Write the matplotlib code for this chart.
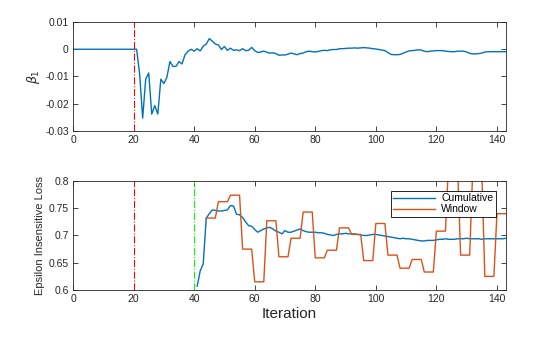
import numpy as np
import matplotlib
matplotlib.use("Agg")
import matplotlib.pyplot as plt

plt.rcParams['font.family'] = ['Liberation Sans', 'DejaVu Sans']

# beta_1 estimate per iteration, 0..143
beta_iter = np.arange(0, 144)
beta_vals = [0.0] * 22 + [
    -0.0091, -0.0253, -0.0110, -0.0087, -0.0238, -0.0207, -0.0238, -0.0110,
    -0.0126, -0.0103, -0.0045, -0.0063, -0.0063, -0.0045, -0.0054, -0.0020,
    -0.0007, 0.0000, -0.0007, 0.0002, -0.0006, 0.0011, 0.0019, 0.0039,
    0.0030, 0.0019, 0.0016, -0.0001, 0.0010, -0.0004, 0.0004, -0.0004,
    -0.0002, -0.0005, 0.0002, -0.0005, -0.0004, 0.0007, -0.0005, -0.0012,
    -0.0010, -0.0007, -0.0011, -0.0014, -0.0013, -0.0016, -0.0022, -0.0021,
    -0.0021, -0.0018, -0.0014, -0.0017, -0.0020, -0.0016, -0.0014, -0.0009,
    -0.0007, -0.0009, -0.0010, -0.0008, -0.0005, -0.0004, -0.0005, -0.0002,
    -0.0001, -0.0001, 0.0002, 0.0002, 0.0003, 0.0004, 0.0004, 0.0005,
    0.0004, 0.0005, 0.0006, 0.0005, 0.0004, 0.0002, 0.0001, -0.0001,
    -0.0003, -0.0005, -0.0012, -0.0019, -0.0020, -0.0020, -0.0019, -0.0015,
    -0.0010, -0.0006, -0.0005, -0.0004, -0.0002, -0.0003, -0.0007, -0.0009,
    -0.0007, -0.0006, -0.0005, -0.0005, -0.0005, -0.0007, -0.0008, -0.0009,
    -0.0009, -0.0007, -0.0007, -0.0007, -0.0010, -0.0015, -0.0017, -0.0017,
    -0.0016, -0.0014, -0.0010, -0.0009, -0.0009, -0.0009, -0.0009, -0.0009,
    -0.0009, -0.0009,
]

# cumulative loss, iterations 41..143
cum_iter = np.arange(41, 144)
cum_loss = [
    0.607, 0.635, 0.648, 0.732, 0.740, 0.747, 0.746, 0.745, 0.745, 0.746,
    0.747, 0.755, 0.754, 0.739, 0.738, 0.733, 0.725, 0.718, 0.717, 0.711,
    0.706, 0.709, 0.712, 0.714, 0.715, 0.712, 0.708, 0.706, 0.703, 0.709,
    0.706, 0.706, 0.708, 0.710, 0.712, 0.709, 0.707, 0.706, 0.706, 0.706,
    0.705, 0.705, 0.704, 0.702, 0.701, 0.700, 0.702, 0.703, 0.703, 0.704,
    0.703, 0.703, 0.703, 0.702, 0.701, 0.700, 0.700, 0.701, 0.702, 0.702,
    0.701, 0.700, 0.699, 0.698, 0.697, 0.696, 0.695, 0.694, 0.695, 0.694,
    0.694, 0.693, 0.692, 0.691, 0.690, 0.690, 0.691, 0.691, 0.691, 0.692,
    0.693, 0.693, 0.694, 0.693, 0.693, 0.693, 0.694, 0.694, 0.694, 0.695,
    0.694, 0.694, 0.694, 0.694, 0.693, 0.694, 0.694, 0.694, 0.694, 0.694,
    0.694, 0.694, 0.695,
]

# window loss, iterations 44..143
win_iter = np.arange(44, 144)
win_loss = [
    0.732, 0.732, 0.732, 0.732, 0.762, 0.762, 0.762, 0.762,
    0.774, 0.774, 0.774, 0.774, 0.675, 0.675, 0.675, 0.675,
    0.615, 0.615, 0.615, 0.615, 0.727, 0.727, 0.727, 0.727,
    0.661, 0.661, 0.661, 0.661, 0.695, 0.695, 0.695, 0.695,
    0.743, 0.743, 0.743, 0.743, 0.659, 0.659, 0.659, 0.659,
    0.673, 0.673, 0.673, 0.673, 0.714, 0.714, 0.714, 0.714,
    0.702, 0.702, 0.702, 0.702, 0.654, 0.654, 0.654, 0.654,
    0.722, 0.722, 0.722, 0.722, 0.664, 0.664, 0.664, 0.664,
    0.640, 0.640, 0.640, 0.640, 0.656, 0.656, 0.656, 0.656,
    0.633, 0.633, 0.633, 0.633, 0.708, 0.708, 0.708, 0.708,
    0.830, 0.830, 0.830, 0.830, 0.664, 0.664, 0.664, 0.664,
    0.820, 0.820, 0.820, 0.820, 0.625, 0.625, 0.625, 0.625,
    0.740, 0.740, 0.740, 0.740,
]

x_ticks = [0, 20, 40, 60, 80, 100, 120, 140]
beta_ticks = [-0.03, -0.02, -0.01, 0, 0.01]
beta_ticklabels = ['-0.03', '-0.02', '-0.01', '0', '0.01']
loss_ticks = [0.6, 0.65, 0.7, 0.75, 0.8]
loss_ticklabels = ['0.6', '0.65', '0.7', '0.75', '0.8']

blue = '#0072BD'
orange = '#D95319'
axcol = '#262626'

fig = plt.figure(figsize=(5.6, 3.37), dpi=100)
ax1 = fig.add_axes([0.1304, 0.6113, 0.7732, 0.3234])
ax2 = fig.add_axes([0.1304, 0.1395, 0.7732, 0.3234])


def style(ax):
    ax.set_xlim(0, 143)
    ax.set_xticks(x_ticks)
    ax.tick_params(direction='in', top=True, right=True, length=3.5,
                   width=0.6, colors=axcol, labelsize=7.5, pad=3)
    for s in ax.spines.values():
        s.set_color(axcol)
        s.set_linewidth(0.6)


ax1.plot(beta_iter, beta_vals, color=blue, lw=1.0)
ax1.axvline(20, color='red', ls='-.', lw=0.8)
ax1.set_ylim(-0.03, 0.01)
ax1.set_yticks(beta_ticks)
ax1.set_yticklabels(beta_ticklabels)
ax1.set_ylabel(r'$\beta_1$', fontsize=9, color=axcol, labelpad=2)
style(ax1)

ax2.plot(cum_iter, cum_loss, color=blue, lw=1.0, label='Cumulative')
ax2.plot(win_iter, win_loss, color=orange, lw=1.0, label='Window')
ax2.axvline(20, color='red', ls='-.', lw=0.8)
ax2.axvline(40, color='#00FF00', ls='-.', lw=0.8)
ax2.set_ylim(0.6, 0.8)
ax2.set_yticks(loss_ticks)
ax2.set_yticklabels(loss_ticklabels)
ax2.set_ylabel('Epsilon Insensitive Loss', fontsize=8, color=axcol, labelpad=3)
ax2.set_xlabel('Iteration', fontsize=11, color=axcol, labelpad=2)
style(ax2)

leg = ax2.legend(loc='upper right', bbox_to_anchor=(0.977, 0.91),
                 fontsize=7.5, frameon=True, fancybox=False, framealpha=1,
                 handlelength=4.0, borderpad=0.25, labelspacing=0.1,
                 handletextpad=0.6, borderaxespad=0)
leg.get_frame().set_edgecolor('black')
leg.get_frame().set_linewidth(0.6)
leg.set_zorder(10)

fig.savefig('out.png', dpi=100)
